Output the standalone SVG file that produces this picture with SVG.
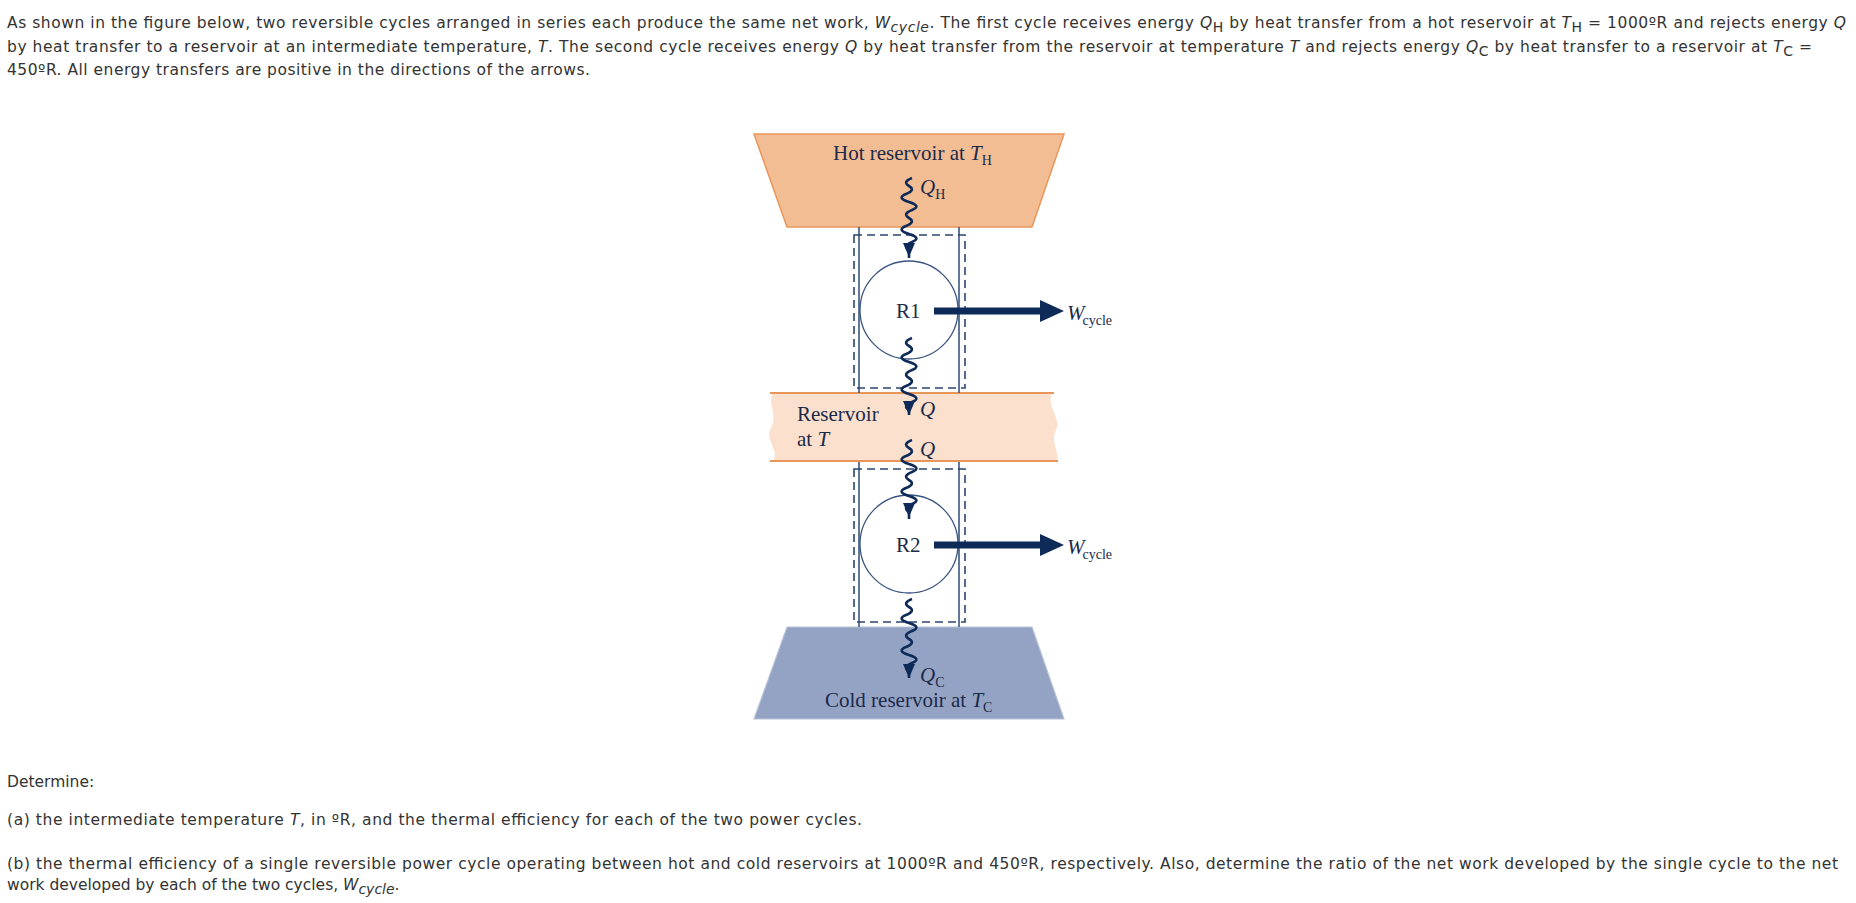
<svg xmlns="http://www.w3.org/2000/svg" width="1856" height="903" viewBox="0 0 1856 903">
<style>
.p{font-family:Verdana,"DejaVu Sans",sans-serif;font-size:15.5px;fill:#333}
.d{font-family:"Liberation Serif","Times New Roman",serif;font-size:21px;fill:#1c2a4a}
.i{font-style:italic}
.s{font-size:14px}
.sol{fill:none;stroke:#3a5580;stroke-width:1.6}
.dash{fill:none;stroke:#2c4670;stroke-width:1.6;stroke-dasharray:8,5}
.circ{fill:#fff;stroke:#3a5580;stroke-width:1.3}
.wave{fill:none;stroke:#0d2a58;stroke-width:2.6}
.head{fill:#0d2a58}
.work{stroke:#0d2a58;stroke-width:7}
</style>
<defs>
<marker id="wh" markerUnits="userSpaceOnUse" markerWidth="24" markerHeight="22" refX="0" refY="11" viewBox="0 0 24 22" orient="auto">
<path d="M0,0 L24,11 L0,22 Z" fill="#0d2a58"/>
</marker>
</defs>
<g id="problem-text">
<text class="p" x="7" y="28" textLength="1839" lengthAdjust="spacing">As shown in the figure below, two reversible cycles arranged in series each produce the same net work, <tspan class="i">W</tspan><tspan class="i s" dy="4">cycle</tspan><tspan dy="-4">. The first cycle receives energy </tspan><tspan class="i">Q</tspan><tspan class="s" dy="4">H</tspan><tspan dy="-4"> by heat transfer from a hot reservoir at </tspan><tspan class="i">T</tspan><tspan class="s" dy="4">H</tspan><tspan dy="-4"> = 1000ºR and rejects energy </tspan><tspan class="i">Q</tspan></text>
<text class="p" x="7" y="52" textLength="1805" lengthAdjust="spacing">by heat transfer to a reservoir at an intermediate temperature, <tspan class="i">T</tspan>. The second cycle receives energy <tspan class="i">Q</tspan> by heat transfer from the reservoir at temperature <tspan class="i">T</tspan> and rejects energy <tspan class="i">Q</tspan><tspan class="s" dy="4">C</tspan><tspan dy="-4"> by heat transfer to a reservoir at </tspan><tspan class="i">T</tspan><tspan class="s" dy="4">C</tspan><tspan dy="-4"> =</tspan></text>
<text class="p" x="7" y="75" textLength="583" lengthAdjust="spacing">450ºR. All energy transfers are positive in the directions of the arrows.</text>
<text class="p" x="7" y="787">Determine:</text>
<text class="p" x="7" y="825" textLength="855" lengthAdjust="spacing">(a) the intermediate temperature <tspan class="i">T</tspan>, in ºR, and the thermal efficiency for each of the two power cycles.</text>
<text class="p" x="7" y="869" textLength="1831" lengthAdjust="spacing">(b) the thermal efficiency of a single reversible power cycle operating between hot and cold reservoirs at 1000ºR and 450ºR, respectively. Also, determine the ratio of the net work developed by the single cycle to the net</text>
<text class="p" x="7" y="890">work developed by each of the two cycles, <tspan class="i">W</tspan><tspan class="i s" dy="4">cycle</tspan><tspan dy="-4">.</tspan></text>
</g>
<g id="hot-reservoir">
<polygon points="754,134 1064,134 1032,227 787,227" fill="#f3bd94" stroke="#e8965a" stroke-width="1.5"/>
<text class="d" x="833" y="160">Hot reservoir at <tspan class="i">T</tspan><tspan class="s" dy="5">H</tspan></text>
</g>
<g id="reservoir-T">
<path d="M773,393 L1052,393 C1046,408 1062,418 1056,430 C1050,443 1060,452 1057,461 L773,461 C780,450 764,440 771,428 C778,414 767,405 773,393 Z" fill="#fae0cd"/>
<line x1="770" y1="393" x2="1054" y2="393" stroke="#e8965a" stroke-width="2"/>
<line x1="770" y1="461" x2="1058" y2="461" stroke="#e8965a" stroke-width="2"/>
<text class="d" x="797" y="421">Reservoir</text>
<text class="d" x="797" y="446">at <tspan class="i">T</tspan></text>
</g>
<g id="cold-reservoir">
<polygon points="787,627 1032,627 1064,719 754,719" fill="#94a3c3" stroke="#b8c3d8" stroke-width="1.2"/>
<text class="d" x="825" y="707">Cold reservoir at <tspan class="i">T</tspan><tspan class="s" dy="5">C</tspan></text>
</g>
<g id="R1">
<line x1="859" y1="227" x2="859" y2="393" class="sol"/>
<line x1="959" y1="227" x2="959" y2="393" class="sol"/>
<rect x="854" y="235" width="111" height="153" class="dash"/>
<circle cx="909" cy="310" r="49" class="circ"/>
<text class="d" x="896" y="318">R1</text>
</g>
<g id="R2">
<line x1="859" y1="462" x2="859" y2="627" class="sol"/>
<line x1="959" y1="462" x2="959" y2="627" class="sol"/>
<rect x="854" y="469" width="111" height="153" class="dash"/>
<circle cx="909" cy="544" r="49" class="circ"/>
<text class="d" x="896" y="552">R2</text>
</g>
<g id="connectors">
<path class="wave" d="M912,178 q-10,4 -3,8 t-3,8 t3,8 t3,8 t-3,8 t-3,8 t3,8 t3,8 t-3,8 l0,8"/>
<polygon class="head" points="903,243 915,243 909,257"/>
<path class="wave" d="M912,338 q-10,4 -3,8 t-3,8 t3,8 t3,8 t-3,8 t-3,8 t3,8 t3,8 t-3,8 l0,5"/>
<polygon class="head" points="903,401 915,401 909,415"/>
<path class="wave" d="M912,440 q-10,4 -3,8 t-3,8 t3,8 t3,8 t-3,8 t-3,8 t3,8 t3,8 t-3,8 l0,7"/>
<polygon class="head" points="903,503 915,503 909,517"/>
<path class="wave" d="M912,599 q-10,4 -3,8 t-3,8 t3,8 t3,8 t-3,8 t-3,8 t3,8 t3,8 t-3,8 l0,7"/>
<polygon class="head" points="903,664 915,664 909,678"/>
<line x1="934" y1="311" x2="1040" y2="311" class="work" marker-end="url(#wh)"/>
<line x1="934" y1="545" x2="1040" y2="545" class="work" marker-end="url(#wh)"/>
<text class="d i" x="920" y="194">Q<tspan class="s" dy="5" font-style="normal">H</tspan></text>
<text class="d i" x="920" y="416">Q</text>
<text class="d i" x="920" y="456">Q</text>
<text class="d i" x="920" y="682">Q<tspan class="s" dy="5" font-style="normal">C</tspan></text>
<text class="d i" x="1067" y="320">W<tspan class="s" dy="5" dx="-2" font-style="normal">cycle</tspan></text>
<text class="d i" x="1067" y="554">W<tspan class="s" dy="5" dx="-2" font-style="normal">cycle</tspan></text>
</g>
</svg>
